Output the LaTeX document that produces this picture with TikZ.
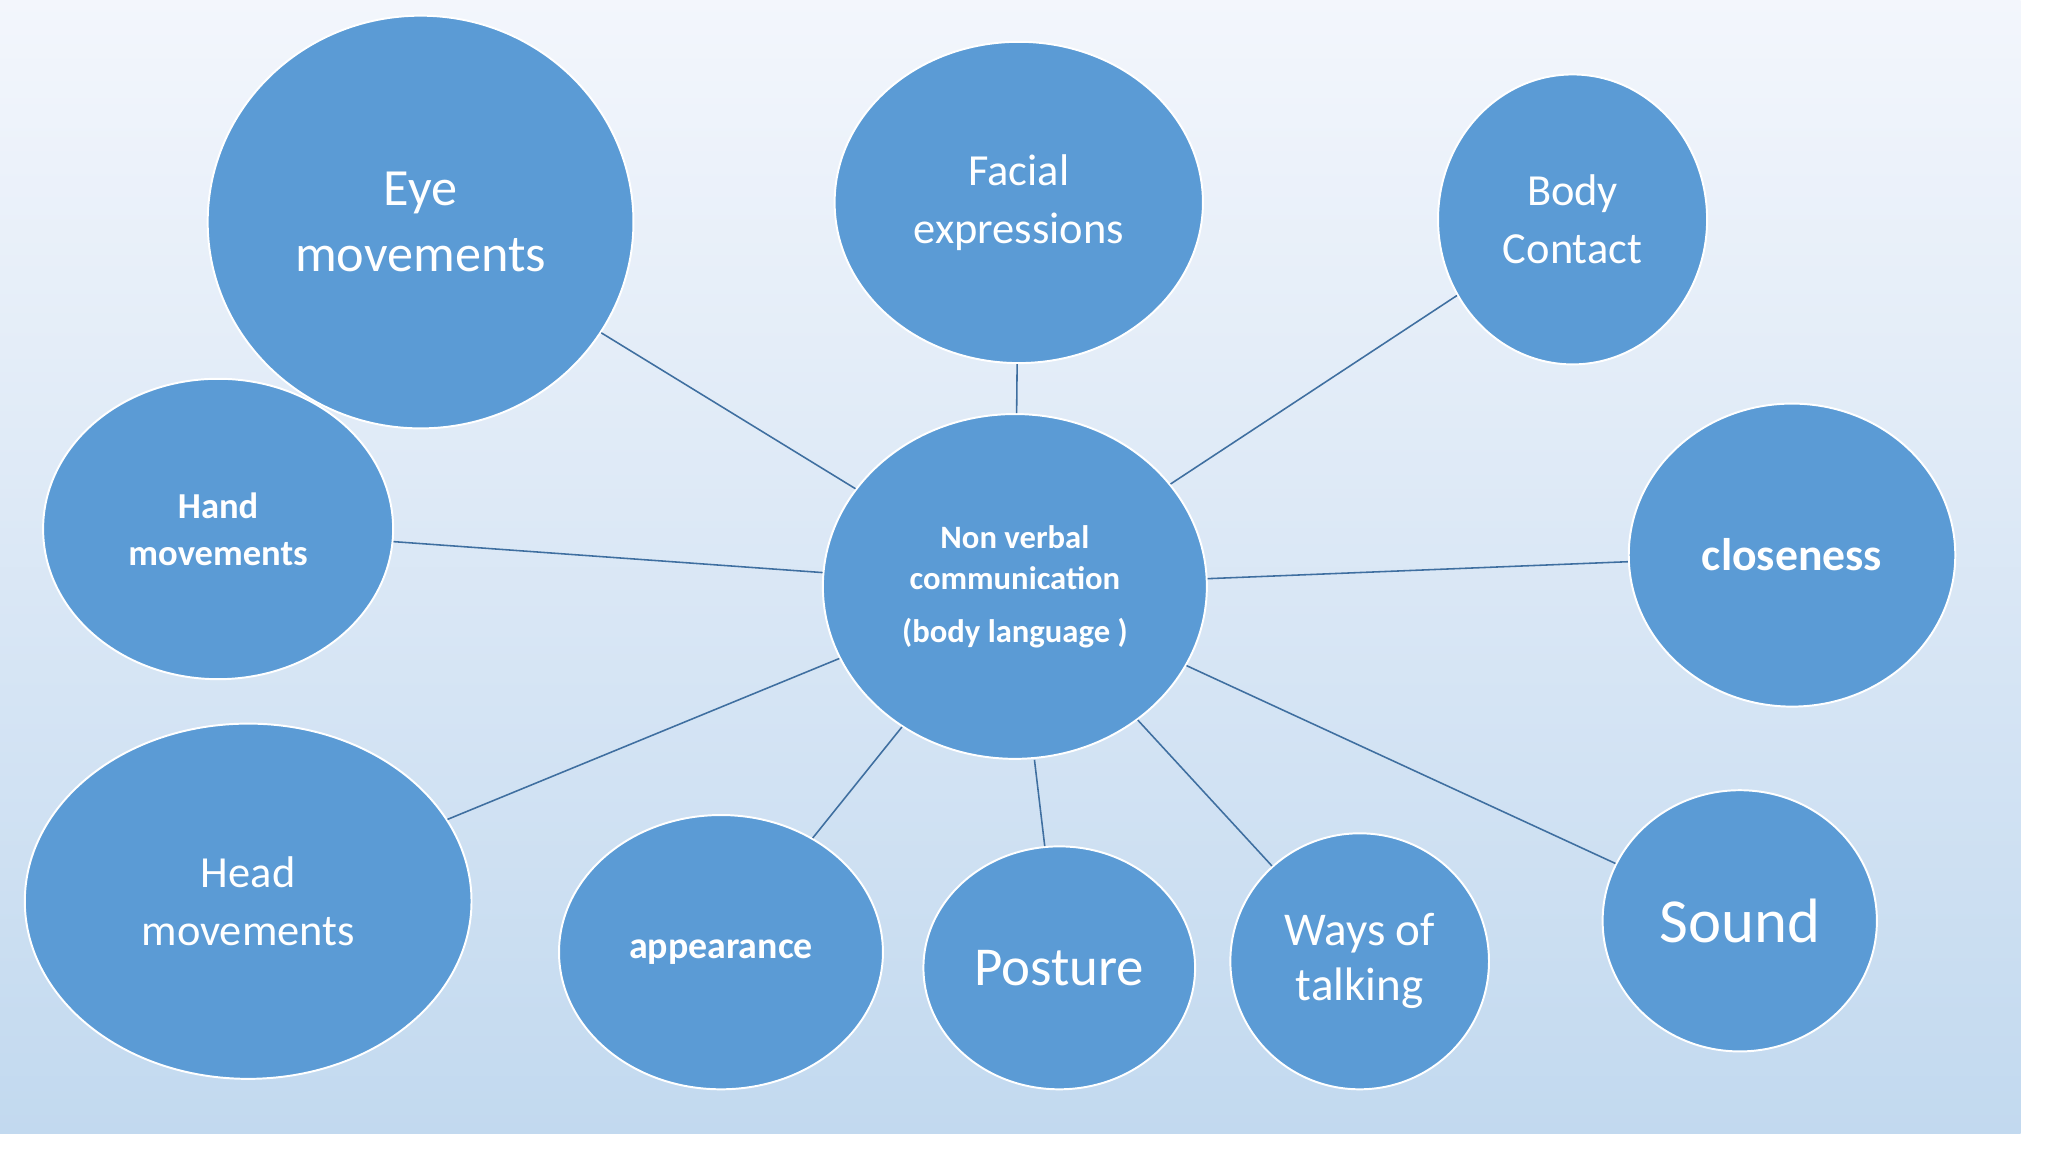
\documentclass[tikz,border=0pt]{standalone}
\usepackage{fontspec}
\setmainfont{Carlito}
\usetikzlibrary{shapes.geometric}
\definecolor{bub}{HTML}{5B9BD5}
\definecolor{lnk}{HTML}{3F6FA0}
\definecolor{bgt}{HTML}{F3F6FC}
\definecolor{bgb}{HTML}{C2D9EF}
\begin{document}
\begin{tikzpicture}[x=1pt,y=-1pt,
 b/.style={ellipse,fill=bub,draw=white,line width=1.5pt,text=white,align=center,inner sep=0pt},
 l/.style={draw=lnk,line width=1.2pt}]
\useasboundingbox (0,0) rectangle (1568,882);
\shade[top color=bgt,bottom color=bgb] (0,0) rectangle (1547,868);
\newcommand{\bub}[7]{\node[b,minimum width=#4*2pt,minimum height=#5*2pt,font=#6] (#1) at (#2,#3) {#7};}
\bub{eye}{322}{170}{163}{158}{\fontsize{40}{50}\selectfont}{Eye\\movements}
\bub{fac}{780}{155}{141}{123}{\fontsize{34}{44}\selectfont}{Facial\\expressions}
\bub{bod}{1204}{168}{103}{111}{\fontsize{34}{44}\selectfont}{Body\\Contact}
\bub{han}{167}{405}{134}{115}{\fontsize{28}{36}\selectfont\bfseries}{Hand\\movements}
\bub{cen}{777}{449}{147}{132}{\fontsize{25}{32}\selectfont\bfseries}{Non verbal\\communication\\[8pt](body language )}
\bub{clo}{1372}{425}{125}{116}{\fontsize{35}{44}\selectfont\bfseries}{closeness}
\bub{hea}{190}{690}{171}{136}{\fontsize{34}{44}\selectfont}{Head\\movements}
\bub{app}{552}{729}{124}{105}{\fontsize{29}{36}\selectfont\bfseries}{appearance}
\bub{pos}{811}{741}{104}{93}{\fontsize{42}{50}\selectfont}{Posture}
\bub{way}{1041}{736}{99}{98}{\fontsize{36}{42}\selectfont}{Ways of\\talking}
\bub{sou}{1332}{705}{105}{100}{\fontsize{48}{56}\selectfont}{Sound}
\draw[l] (cen) -- (eye);
\draw[l] (cen) -- (fac);
\draw[l] (cen) -- (bod);
\draw[l] (cen) -- (han);
\draw[l] (cen) -- (clo);
\draw[l] (cen) -- (hea);
\draw[l] (cen) -- (app);
\draw[l] (cen.south) ++(15,0) coordinate (cp) (cp) -- (pos);
\draw[l] (cen) -- (way);
\draw[l] (cen) -- (sou);
\end{tikzpicture}
\end{document}
